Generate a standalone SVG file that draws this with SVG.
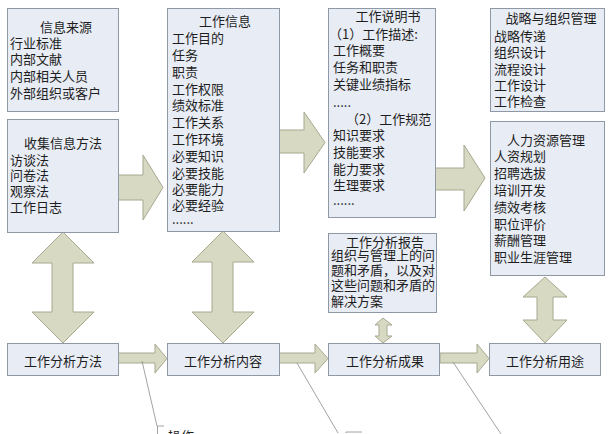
<svg xmlns="http://www.w3.org/2000/svg" width="609" height="434" viewBox="0 0 609 434">
<style>
.box{fill:#e8ecf5;stroke:#8f99a5;stroke-width:1}
.arr{fill:#d8d9c3;stroke:#a6a88f;stroke-width:1;stroke-linejoin:miter}
.t{font-family:"Noto Sans CJK SC","Noto Sans CJK JP",sans-serif;font-size:13px;fill:#1e1e1e}
.c{text-anchor:middle}
.ln{fill:none;stroke:#8a8a8a;stroke-width:0.8}
</style>
<rect width="609" height="434" fill="#ffffff"/>
<g id="connectors">
<polygon class="arr" points="118,175 143,175 143,155 163,187.5 143,220 143,200 118,200"/>
<polygon class="arr" points="279,130 304,130 304,112 325,142.5 304,173 304,153 279,153"/>
<polygon class="arr" points="435,168 464,168 464,145 485,178 464,211 464,190 435,190"/>
<polygon class="arr" points="118,353 155,353 155,344 167,358.5 155,373 155,363 118,363"/>
<polygon class="arr" points="279,353 315,353 315,344 328,358.5 315,373 315,363 279,363"/>
<polygon class="arr" points="440,353 477,353 477,344 489,358.5 477,373 477,363 440,363"/>
<polygon class="arr" points="63,232 94,263 73,263 73,312 94,312 63,343 32,312 52,312 52,263 32,263"/>
<polygon class="arr" points="223,231 254,262 233,262 233,312 254,312 223,343 192,312 212,312 212,262 192,262"/>
<polygon class="arr" points="545,277 567,297 553,297 553,320 567,320 545,343 523,320 537,320 537,297 523,297"/>
<polygon class="arr" points="383,318 392,325 387,325 387,336 392,336 383,343 375,336 379,336 379,325 375,325"/>
<path class="ln" d="M142,361 L157,426 M164,426 H157.5 V434"/>
<path class="ln" d="M297,363 L338,433 M346,433 V432 H362"/>
<path class="ln" d="M453,362 L505,440"/>
<text class="t" x="168" y="441" font-size="12">操作</text>
</g>
<g id="n-source">
<rect class="box" x="7.5" y="8.5" width="111" height="103"/>
<text class="t c" x="66" y="32">信息来源</text>
<text class="t" x="10" y="48">行业标准</text>
<text class="t" x="10" y="64">内部文献</text>
<text class="t" x="10" y="81">内部相关人员</text>
<text class="t" x="10" y="98">外部组织或客户</text>
</g>
<g id="n-method-collect">
<rect class="box" x="7.5" y="119.5" width="111" height="113"/>
<text class="t c" x="63" y="148">收集信息方法</text>
<text class="t" x="10" y="165">访谈法</text>
<text class="t" x="10" y="180">问卷法</text>
<text class="t" x="10" y="196">观察法</text>
<text class="t" x="10" y="212">工作日志</text>
</g>
<g id="n-jobinfo">
<rect class="box" x="167.5" y="8.5" width="112" height="223"/>
<text class="t c" x="225" y="26">工作信息</text>
<text class="t" x="172" y="43">工作目的</text>
<text class="t" x="172" y="60">任务</text>
<text class="t" x="172" y="77">职责</text>
<text class="t" x="172" y="94">工作权限</text>
<text class="t" x="172" y="110">绩效标准</text>
<text class="t" x="172" y="127">工作关系</text>
<text class="t" x="172" y="144">工作环境</text>
<text class="t" x="172" y="161">必要知识</text>
<text class="t" x="172" y="178">必要技能</text>
<text class="t" x="172" y="194">必要能力</text>
<text class="t" x="172" y="210">必要经验</text>
<text class="t" x="172" y="224">......</text>
</g>
<g id="n-jobdesc">
<rect class="box" x="328.5" y="8.5" width="107" height="209"/>
<text class="t c" x="388" y="21">工作说明书</text>
<text class="t" x="329" y="39">（1）工作描述:</text>
<text class="t" x="333" y="55">工作概要</text>
<text class="t" x="333" y="72">任务和职责</text>
<text class="t" x="333" y="89">关键业绩指标</text>
<text class="t" x="333" y="107">.....</text>
<text class="t" x="346" y="124">（2）工作规范</text>
<text class="t" x="333" y="140">知识要求</text>
<text class="t" x="333" y="157">技能要求</text>
<text class="t" x="333" y="174">能力要求</text>
<text class="t" x="333" y="190">生理要求</text>
<text class="t" x="333" y="205">......</text>
</g>
<g id="n-strategy">
<rect class="box" x="490.5" y="8.5" width="114" height="103"/>
<text class="t c" x="551" y="23">战略与组织管理</text>
<text class="t" x="494" y="41">战略传递</text>
<text class="t" x="494" y="57">组织设计</text>
<text class="t" x="494" y="74">流程设计</text>
<text class="t" x="494" y="90">工作设计</text>
<text class="t" x="494" y="106">工作检查</text>
</g>
<g id="n-hr">
<rect class="box" x="490.5" y="121.5" width="114" height="154"/>
<text class="t c" x="546" y="145">人力资源管理</text>
<text class="t" x="494" y="161">人资规划</text>
<text class="t" x="494" y="178">招聘选拔</text>
<text class="t" x="494" y="195">培训开发</text>
<text class="t" x="494" y="212">绩效考核</text>
<text class="t" x="494" y="229">职位评价</text>
<text class="t" x="494" y="245">薪酬管理</text>
<text class="t" x="494" y="262">职业生涯管理</text>
</g>
<g id="n-report">
<rect class="box" x="328.5" y="233.5" width="108" height="79"/>
<text class="t c" x="385" y="247">工作分析报告</text>
<text class="t" x="331" y="260">组织与管理上的问</text>
<text class="t" x="331" y="275">题和矛盾，以及对</text>
<text class="t" x="331" y="290">这些问题和矛盾的</text>
<text class="t" x="331" y="306">解决方案</text>
</g>
<g id="n-method">
<rect class="box" x="7.5" y="343.5" width="111" height="32"/>
<text class="t c" x="63" y="366">工作分析方法</text>
</g>
<g id="n-content">
<rect class="box" x="167.5" y="343.5" width="112" height="32"/>
<text class="t c" x="223" y="366">工作分析内容</text>
</g>
<g id="n-result">
<rect class="box" x="328.5" y="343.5" width="111" height="32"/>
<text class="t c" x="385" y="366">工作分析成果</text>
</g>
<g id="n-use">
<rect class="box" x="489.5" y="343.5" width="111" height="32"/>
<text class="t c" x="545" y="366">工作分析用途</text>
</g>
</svg>
